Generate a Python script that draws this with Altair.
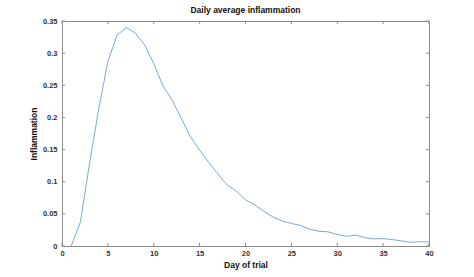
import altair as alt
import pandas as pd

# Mean inflammation per day of the trial
days = list(range(1, 41))
mean_inflammation = [
    0.0, 0.037, 0.128, 0.213, 0.287, 0.328, 0.340, 0.331, 0.313, 0.284,
    0.249, 0.227, 0.199, 0.170, 0.149, 0.130, 0.112, 0.095, 0.085, 0.072,
    0.064, 0.054, 0.045, 0.039, 0.035, 0.032, 0.026, 0.023, 0.022, 0.018,
    0.015, 0.017, 0.013, 0.011, 0.0115, 0.010, 0.008, 0.0058, 0.0067, 0.0063,
]
x_ticks = [0, 5, 10, 15, 20, 25, 30, 35, 40]
y_ticks = [0, 0.05, 0.1, 0.15, 0.2, 0.25, 0.3, 0.35]

W, H = 367, 225
AXIS_GRAY = "#8c8c8c"
FONT = "Liberation Sans"

df = pd.DataFrame({"day": days, "value": mean_inflammation})
xt = pd.DataFrame({"t": x_ticks})
yt = pd.DataFrame({"t": y_ticks})

x_scale = alt.Scale(domain=[0, 40], nice=False, zero=False)
y_scale = alt.Scale(domain=[0, 0.35], nice=False)

# Same axis definition on every layer so the merged axes keep their tick values
x_axis = alt.Axis(values=x_ticks, format="d", labelPadding=3, titlePadding=4)
y_axis = alt.Axis(
    values=y_ticks,
    labelExpr="datum.value == 0 ? '0' : format(datum.value, '.2~f')",
    labelPadding=5,
    titlePadding=4,
)
X_TITLE = "Day of trial"
Y_TITLE = "Inflammation"

line = alt.Chart(df).mark_line(color="#78aad8", strokeWidth=1).encode(
    x=alt.X("day:Q", scale=x_scale, title=X_TITLE, axis=x_axis),
    y=alt.Y("value:Q", scale=y_scale, title=Y_TITLE, axis=y_axis),
)

# Inward-pointing tick marks on all four sides of the box
tick_len = 3
bottom_ticks = alt.Chart(xt).mark_rule(color=AXIS_GRAY, strokeWidth=1).encode(
    x=alt.X("t:Q", scale=x_scale, title=X_TITLE, axis=x_axis),
    y=alt.value(H), y2=alt.value(H - tick_len),
)
top_ticks = alt.Chart(xt).mark_rule(color=AXIS_GRAY, strokeWidth=1).encode(
    x=alt.X("t:Q", scale=x_scale, title=X_TITLE, axis=x_axis),
    y=alt.value(0), y2=alt.value(tick_len),
)
left_ticks = alt.Chart(yt).mark_rule(color=AXIS_GRAY, strokeWidth=1).encode(
    y=alt.Y("t:Q", scale=y_scale, title=Y_TITLE, axis=y_axis),
    x=alt.value(0), x2=alt.value(tick_len),
)
right_ticks = alt.Chart(yt).mark_rule(color=AXIS_GRAY, strokeWidth=1).encode(
    y=alt.Y("t:Q", scale=y_scale, title=Y_TITLE, axis=y_axis),
    x=alt.value(W), x2=alt.value(W - tick_len),
)

chart = (
    alt.layer(line, bottom_ticks, top_ticks, left_ticks, right_ticks)
    .properties(
        width=W,
        height=H,
        background="white",
        autosize=alt.AutoSizeParams(type="none"),
        padding={"left": 62, "top": 21, "right": 45, "bottom": 31},
        title=alt.TitleParams(
            "Daily average inflammation",
            font=FONT,
            fontSize=8.5,
            fontWeight="bold",
            color="#111111",
            offset=3,
        ),
    )
    .configure_view(stroke=AXIS_GRAY, strokeWidth=1)
    .configure_axis(
        ticks=False,
        grid=False,
        domainColor=AXIS_GRAY,
        labelOverlap=False,
        labelFlush=False,
        labelFont=FONT,
        labelFontSize=7.5,
        labelFontWeight="bold",
        labelColor="#333333",
        titleFont=FONT,
        titleFontSize=8.5,
        titleFontWeight="bold",
        titleColor="#111111",
    )
)

chart.save("out.html", embed_options={"renderer": "svg", "actions": False})
